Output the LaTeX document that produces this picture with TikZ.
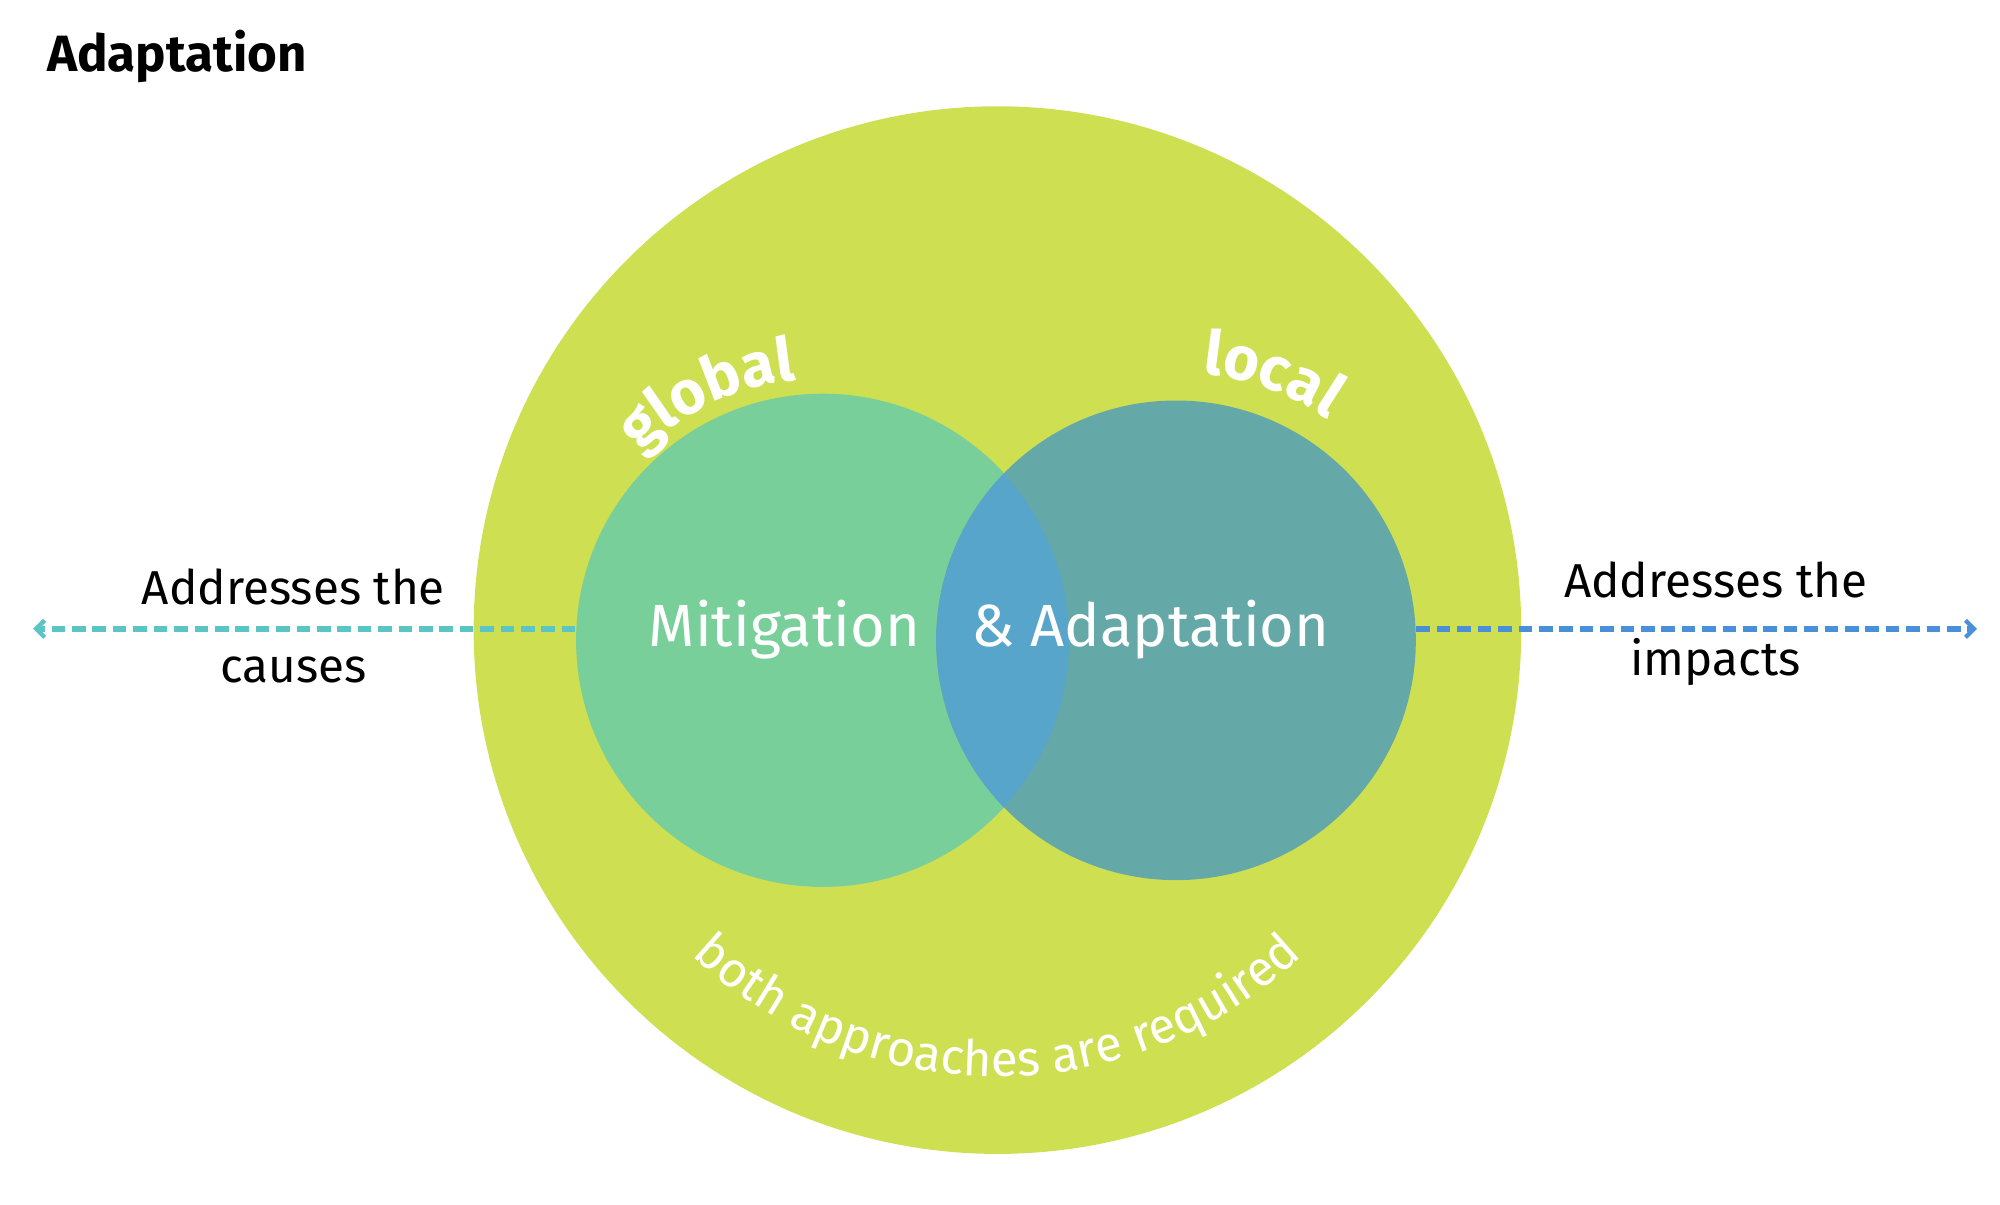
\documentclass[tikz,border=0pt]{standalone}
\usepackage{fontspec}
\setmainfont{Fira Sans}
\usetikzlibrary{arrows.meta,decorations.text}
\definecolor{bigcol}{RGB}{207,223,82}
\definecolor{mitcol}{RGB}{121,207,154}
\definecolor{adacol}{RGB}{100,168,168}
\definecolor{overcol}{RGB}{88,165,203}
\definecolor{causecol}{RGB}{91,196,196}
\definecolor{impactcol}{RGB}{74,144,217}
\tikzset{every picture/.style={line width=0.75pt}}
\tikzset{
  ring/.style={circle, draw=none, inner sep=0pt},
  sidetext/.style={align=center, font=\fontsize{28}{34}\selectfont, text=black},
  dasharrow/.style={line width=3.2pt, dash pattern=on 8pt off 4pt, -{Straight Barb[length=5pt,width=10pt,line width=2.5pt]}},
}

\begin{document}
\begin{tikzpicture}[x=0.75pt,y=0.75pt,yscale=-1,xscale=1]
\useasboundingbox (0,0) rectangle (1568,944);

%Shape: big circle
\node [ring, fill=bigcol, minimum size=616pt] (big) at (782,494) {};
%Shape: left and right circles
\node [ring, fill=mitcol, minimum size=290pt] (mit) at (645,502) {};
\node [ring, fill=adacol, minimum size=282pt] (ada) at (922,502) {};
\begin{scope}
  \clip (645,502) circle (193);
  \fill [overcol] (922,502) circle (188);
\end{scope}

%Dashed arrows
\coordinate (causesend) at (26,493);
\coordinate (impactsend) at (1550,493);
\draw [dasharrow, causecol] (mit.west |- 0,493) -- (causesend);
\draw [dasharrow, impactcol] (ada.east |- 0,493) -- (impactsend);

% Text Node
\node [anchor=west, font=\fontsize{30}{34}\selectfont\bfseries] (title) at (32,44) {Adaptation};
% Text Node
\node [sidetext] (causes) at (230,491) {Addresses the\\[12pt]causes};
% Text Node
\node [sidetext] (impacts) at (1345,489) {Addresses the\\[12pt]impacts};
% Text Node
\node [text=white, font=\fontsize{35}{40}\selectfont] (mitlabel) at (615,494) {Mitigation};
% Text Node
\node [text=white, font=\fontsize{35}{40}\selectfont] (adalabel) at (902,494) {\& Adaptation};

%Curved labels
\path [decorate, decoration={text along path, text align=center,
  text={|\fontsize{36}{40}\selectfont\bfseries\color{white}|global}}]
  (645,502) ++(-150:205) arc[start angle=-150, end angle=-80, radius=205];
\path [decorate, decoration={text along path, text align=center,
  text={|\fontsize{36}{40}\selectfont\bfseries\color{white}|local}}]
  (922,502) ++(-100:210) arc[start angle=-100, end angle=-40, radius=210];
\path [decorate, decoration={text along path, text align=center,
  text={|\fontsize{29}{33}\selectfont\color{white}|both approaches are required}}]
  (782,494) ++(-218:350) arc[start angle=-218, end angle=-322, radius=350];
\end{tikzpicture}
\end{document}
